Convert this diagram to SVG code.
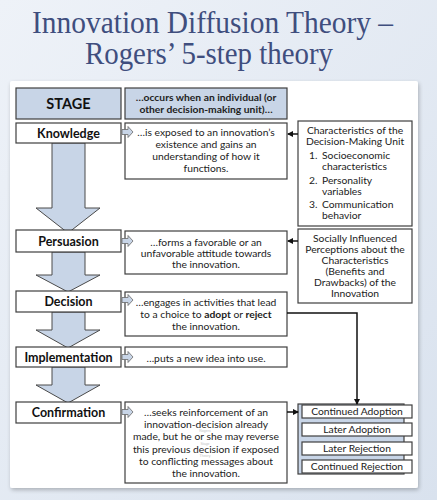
<svg xmlns="http://www.w3.org/2000/svg" width="437" height="500" viewBox="0 0 437 500">
<defs>
<linearGradient id="bg" x1="0" y1="0" x2="1" y2="1">
<stop offset="0" stop-color="#eef2f8"/>
<stop offset="1" stop-color="#d9e2ee"/>
</linearGradient>
<filter id="sh" x="-5%" y="-5%" width="110%" height="110%">
<feGaussianBlur in="SourceAlpha" stdDeviation="2"/>
<feOffset dx="1" dy="2"/>
<feComponentTransfer><feFuncA type="linear" slope="0.25"/></feComponentTransfer>
<feMerge><feMergeNode/><feMergeNode in="SourceGraphic"/></feMerge>
</filter>
<marker id="ah" markerWidth="6" markerHeight="6" refX="5" refY="3" orient="auto" markerUnits="userSpaceOnUse">
<path d="M0,0 L6,3 L0,6 Z" fill="#111"/>
</marker>
<path id="small" d="M0,-2.5 H6 V-5.5 L11,0 L6,5.5 V2.5 H0 Z"/>
</defs>
<style>
.title{font-family:"Liberation Serif",serif;font-size:31px;fill:#3f4e7e}
.box{fill:#fff;stroke:#3f3f3f;stroke-width:1.2}
.hdr{fill:#c8d5e7;stroke:#3f3f3f;stroke-width:1.2}
.big{fill:#c8d5e7;stroke:#4a4a4a;stroke-width:1}
.sm{fill:#c8d5e7;stroke:#6a6a6a;stroke-width:0.8}
.t{font-family:"Lato","Liberation Sans",sans-serif;font-size:10.3px;fill:#222;text-anchor:middle}
.tl{font-family:"Lato","Liberation Sans",sans-serif;font-size:10.3px;fill:#222}
.b{font-weight:bold}
.lbl{font-family:"Lato","Liberation Sans",sans-serif;font-size:12.5px;font-weight:bold;fill:#111;text-anchor:middle}
.wm{font-family:"Liberation Sans",sans-serif;font-size:3.5px;fill:#c4c4c4;text-anchor:middle}
.con{fill:none;stroke:#111;stroke-width:1.5}
</style>
<rect width="437" height="500" fill="url(#bg)"/>
<g id="title">
<text class="title" x="32" y="33" textLength="361" lengthAdjust="spacingAndGlyphs">Innovation Diffusion Theory –</text>
<text class="title" x="85" y="64" textLength="248" lengthAdjust="spacingAndGlyphs">Rogers’ 5-step theory</text>
</g>
<rect x="10" y="81" width="408" height="407" rx="2" fill="#fff" filter="url(#sh)"/>

<g id="flow-arrows">
<path class="big" d="M52,143 V208 H36 L68,233 L100,208 H85 V143 Z"/>
<path class="big" d="M52,252 V275 H36 L68,292 L100,275 H85 V252 Z"/>
<path class="big" d="M52,312 V330 H36 L68,348 L100,330 H85 V312 Z"/>
<path class="big" d="M52,367 V385 H36 L68,403 L100,385 H85 V367 Z"/>
</g>

<g id="stage-header">
<rect class="hdr" x="16" y="88" width="105" height="31"/>
<text class="lbl" x="68.5" y="108.5" style="font-size:14.5px">STAGE</text>
</g>
<g id="occurs-header">
<rect class="hdr" x="125" y="88" width="162" height="31"/>
<text class="t b" x="206" y="101">…occurs when an individual (or</text>
<text class="t b" x="206" y="113">other decision-making unit)…</text>
</g>

<g id="knowledge">
<rect class="box" x="16" y="123" width="105" height="20"/>
<text class="lbl" x="68.5" y="137.5">Knowledge</text>
</g>
<g id="knowledge-desc">
<rect class="box" x="125" y="123" width="162" height="56"/>
<use href="#small" class="sm" x="122" y="132"/>
<text class="t" x="206" y="136">…is exposed to an innovation’s</text>
<text class="t" x="206" y="148">existence and gains an</text>
<text class="t" x="206" y="160">understanding of how it</text>
<text class="t" x="206" y="172">functions.</text>
</g>
<g id="characteristics">
<rect class="box" x="298" y="121" width="114" height="105"/>
<text class="t" x="355" y="134">Characteristics of the</text>
<text class="t" x="355" y="145">Decision-Making Unit</text>
<text class="tl" x="309" y="159">1.</text>
<text class="tl" x="322" y="159">Socioeconomic</text>
<text class="tl" x="322" y="170">characteristics</text>
<text class="tl" x="309" y="184">2.</text>
<text class="tl" x="322" y="184">Personality</text>
<text class="tl" x="322" y="195">variables</text>
<text class="tl" x="309" y="208">3.</text>
<text class="tl" x="322" y="208">Communication</text>
<text class="tl" x="322" y="219">behavior</text>
</g>

<g id="persuasion">
<rect class="box" x="16" y="230" width="105" height="22"/>
<text class="lbl" x="68.5" y="245.5">Persuasion</text>
</g>
<g id="persuasion-desc">
<rect class="box" x="125" y="231" width="162" height="43"/>
<use href="#small" class="sm" x="122" y="241"/>
<text class="t" x="206" y="245.5">…forms a favorable or an</text>
<text class="t" x="206" y="256.5">unfavorable attitude towards</text>
<text class="t" x="206" y="267.5">the innovation.</text>
</g>
<g id="social">
<rect class="box" x="298" y="229" width="114" height="74"/>
<text class="t" x="355" y="241.5">Socially Influenced</text>
<text class="t" x="355" y="252.5">Perceptions about the</text>
<text class="t" x="355" y="263.5">Characteristics</text>
<text class="t" x="355" y="274.5">(Benefits and</text>
<text class="t" x="355" y="285.5">Drawbacks) of the</text>
<text class="t" x="355" y="296.5">Innovation</text>
</g>

<g id="decision">
<rect class="box" x="16" y="291" width="105" height="21"/>
<text class="lbl" x="68.5" y="306">Decision</text>
</g>
<g id="decision-desc">
<rect class="box" x="125" y="292" width="162" height="44"/>
<use href="#small" class="sm" x="122" y="300"/>
<text class="t" x="206" y="305.5">…engages in activities that lead</text>
<text class="t" x="206" y="317.5">to a choice to <tspan class="b">adopt</tspan> or <tspan class="b">reject</tspan></text>
<text class="t" x="206" y="329.5">the innovation.</text>
</g>

<g id="implementation">
<rect class="box" x="16" y="347" width="105" height="20"/>
<text class="lbl" x="68.5" y="361.5">Implementation</text>
</g>
<g id="implementation-desc">
<rect class="box" x="125" y="347" width="162" height="20"/>
<use href="#small" class="sm" x="122" y="357"/>
<text class="t" x="206" y="361.5">…puts a new idea into use.</text>
</g>

<g id="confirmation">
<rect class="box" x="16" y="402" width="105" height="21"/>
<text class="lbl" x="68.5" y="417">Confirmation</text>
</g>
<g id="confirmation-desc">
<rect class="box" x="125" y="402" width="162" height="81"/>
<use href="#small" class="sm" x="122" y="412"/>
<text class="t" x="206" y="415.5">…seeks reinforcement of an</text>
<text class="t" x="206" y="427.5">innovation-decision already</text>
<text class="t" x="206" y="440">made, but he or she may reverse</text>
<text class="t" x="206" y="452.5">this previous decision if exposed</text>
<text class="t" x="206" y="465">to conflicting messages about</text>
<text class="t" x="206" y="477">the innovation.</text>
<text class="wm" x="205" y="432.3">Rogers</text>
<text class="wm" x="205" y="444.8">Stage</text>
<text class="wm" x="205" y="457.3">Theory</text>
</g>

<g id="outcomes">
<rect class="hdr" x="298" y="404" width="106" height="70"/>
<g id="continued-adoption">
<rect class="box" x="302" y="405" width="110" height="13"/>
<text class="t" x="357" y="415">Continued Adoption</text>
</g>
<g id="later-adoption">
<rect class="box" x="302" y="423" width="110" height="13"/>
<text class="t" x="357" y="433">Later Adoption</text>
</g>
<g id="later-rejection">
<rect class="box" x="302" y="442" width="110" height="13"/>
<text class="t" x="357" y="452">Later Rejection</text>
</g>
<g id="continued-rejection">
<rect class="box" x="302" y="460" width="110" height="13"/>
<text class="t" x="357" y="470">Continued Rejection</text>
</g>
</g>

<g id="connectors">
<path class="con" d="M298,134 H288" marker-end="url(#ah)"/>
<path class="con" d="M298,241 H288" marker-end="url(#ah)"/>
<path class="con" d="M287,313 H357 V404" marker-end="url(#ah)"/>
<path class="con" d="M287,412 H298" marker-end="url(#ah)"/>
</g>
</svg>
